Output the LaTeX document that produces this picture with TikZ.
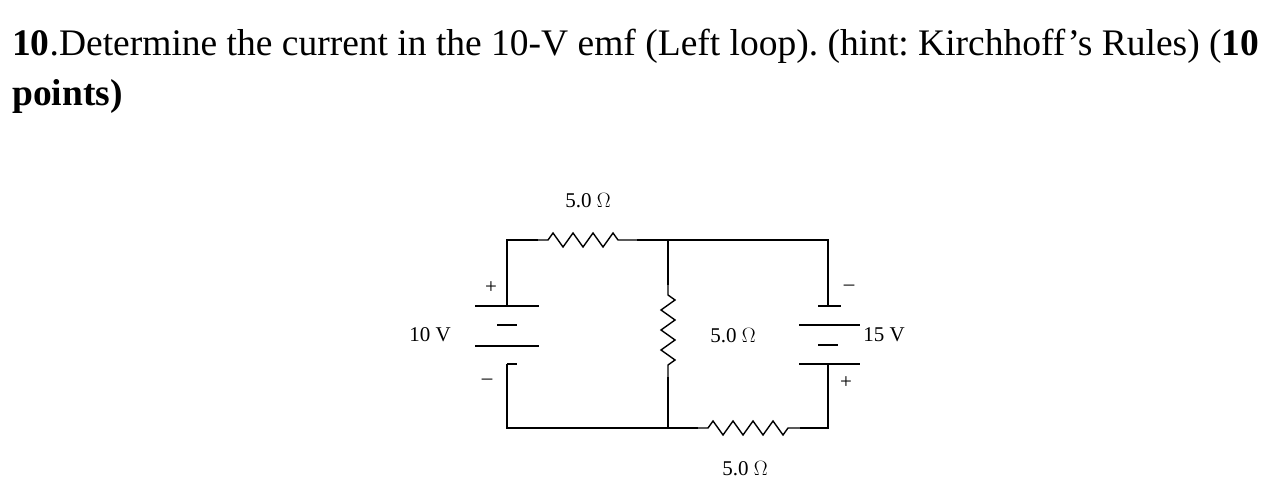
\documentclass[tikz,border=0pt]{standalone}
\usepackage{fontspec}
\setmainfont{Liberation Serif}
\usetikzlibrary{decorations.pathmorphing}
\begin{document}
\frenchspacing
\begin{tikzpicture}[x=1pt,y=-1pt,
  wire/.style={line width=1.4pt},
  res/.style={wire,decorate,decoration={zigzag,segment length=20pt,amplitude=7pt,pre length=10pt,post length=10pt}},
  lbl/.style={font=\fontsize{21}{24}\selectfont,inner sep=0pt}]
\useasboundingbox (0,0) rectangle (1282,492);
\node[anchor=base west,inner sep=0pt,font=\fontsize{37.5}{42}\selectfont] (t1) at (12,56) {\textbf{10}.Determine the current in the 10-V emf (Left loop). (hint: Kirchhoff’s Rules) (\textbf{10}};
\node[anchor=base west,inner sep=0pt,font=\fontsize{37.5}{42}\selectfont\bfseries] (t2) at (12,106) {points)};
% corners
\coordinate (tl) at (507,240); \coordinate (tm) at (668,240); \coordinate (tr) at (828,240);
\coordinate (bl) at (507,428); \coordinate (bm) at (668,428); \coordinate (br) at (828,428);
\coordinate (r1a) at (538,240); \coordinate (r1b) at (637,240);
\coordinate (r2a) at (668,285); \coordinate (r2b) at (668,377);
\coordinate (r3a) at (698,428); \coordinate (r3b) at (800,428);
\coordinate (b1t) at (507,306); \coordinate (b1b) at (507,364);
\coordinate (b2t) at (828,306); \coordinate (b2b) at (828,364);
% wires
\draw[wire] (b1t) -- (tl) -- (r1a);
\draw[res] (r1a) -- (r1b);
\draw[wire] (r1b) -- (tm) -- (tr) -- (b2t);
\draw[wire] (tm) -- (r2a);
\draw[res] (r2a) -- (r2b);
\draw[wire] (r2b) -- (bm);
\draw[wire] (b1b) -- (bl) -- (bm) -- (r3a);
\draw[res] (r3a) -- (r3b);
\draw[wire] (r3b) -- (br) -- (b2b);
% left battery
\draw[wire] (475,306) -- (539,306);
\draw[wire] (497,325) -- (517,325);
\draw[wire] (475,346) -- (539,346);
\draw[wire] (507,364) -- (517,364);
% right battery
\draw[wire] (818,306) -- (841,306);
\draw[wire] (799,325) -- (860,325);
\draw[wire] (818,345) -- (838,345);
\draw[wire] (799,364) -- (860,364);
% labels
\node[lbl] (p1) at (491,288) {+};
\node[lbl] (m1) at (487,382) {\textendash};
\node[lbl] (m2) at (849,288) {\textendash};
\node[lbl] (p2) at (846,383) {+};
\node[lbl] (v1) at (430,335) {10 V};
\node[lbl] (v2) at (884,335) {15 V};
\node[lbl] (l1) at (588,201) {5.0 $\Omega$};
\node[lbl] (l2) at (733,336) {5.0 $\Omega$};
\node[lbl] (l3) at (745,469) {5.0 $\Omega$};
\end{tikzpicture}
\end{document}
